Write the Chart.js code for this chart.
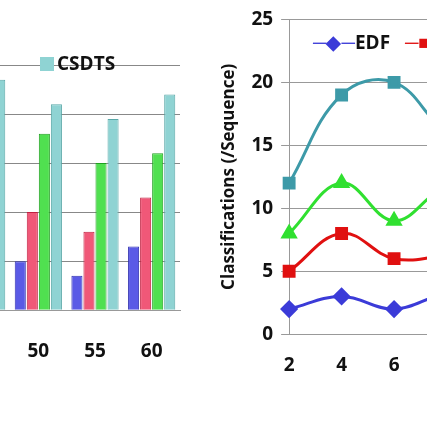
<!DOCTYPE html>
<html>
<head>
<meta charset="utf-8">
<script src="https://cdn.jsdelivr.net/npm/chart.js@4.4.0/dist/chart.umd.min.js"></script>
<style>
  body { margin: 0; background: #fff; width: 427px; height: 427px; overflow: hidden; position: relative; font-family: "Open Sans", sans-serif; }
  .box { position: absolute; top: 0; height: 427px; overflow: hidden; }
  .legend { position: absolute; white-space: nowrap; font-weight: bold; font-size: 19px; color: #111; }
  .legend span.sw { display: inline-block; width: 14px; height: 14px; vertical-align: -1px; margin-right: 3px; }
</style>
</head>
<body>
<div class="box" style="left:0;width:213px;">
  <canvas id="left" style="position:absolute;left:-180px;top:0;"></canvas>
  <div class="legend" style="left:40px;top:50px;"><span class="sw" style="background:#8fd3d3"></span>CSDTS</div>
</div>
<div class="box" style="left:213px;width:214px;">
  <canvas id="right" style="position:absolute;left:0;top:0;"></canvas>
  <div class="legend" style="left:100px;top:29px;">
    <span style="color:#3b3bd8">&#9472;&#9670;&#9472;</span>EDF &nbsp;
    <span style="color:#e01010">&#9472;&#9632;&#9472;</span>RM
  </div>
</div>
<script>
// left chart (3D bars in the original, cropped)
const barLabels = ["35", "40", "45", "50", "55", "60"];
const barBlue = [1.1, 0.9, 1.2, 1.0, 0.7, 1.3];
const barRed = [2.1, 1.8, 2.2, 2.0, 1.6, 2.3];
const barGreen = [3.4, 3.7, 3.9, 3.6, 3.0, 3.2];
const barCyan = [4.3, 4.5, 4.7, 4.2, 3.9, 4.4];

// right chart
const lineLabels = ["2", "4", "6", "8", "10"];
const lineEDF = [2, 3, 2, 3.2, 3];
const lineRM = [5, 8, 6, 6.3, 7];
const lineLLF = [8, 12, 9, 11.5, 10];
const lineCSDTS = [12, 19, 20, 16, 14];

const boldFont = { family: "Open Sans", weight: "bold", size: 19 };

const lc = document.getElementById("left");
lc.width = 380; lc.height = 427;
lc.style.width = "380px"; lc.style.height = "427px";
new Chart(lc, {
  type: "bar",
  data: {
    labels: barLabels,
    datasets: [
      { label: "EDF", data: barBlue, backgroundColor: "#5a5ae6", borderColor: "#3030b0", borderWidth: 1 },
      { label: "RM", data: barRed, backgroundColor: "#f05878", borderColor: "#c02040", borderWidth: 1 },
      { label: "LLF", data: barGreen, backgroundColor: "#50e050", borderColor: "#20a020", borderWidth: 1 },
      { label: "CSDTS", data: barCyan, backgroundColor: "#8fd3d3", borderColor: "#5aa8a8", borderWidth: 1 },
    ],
  },
  options: {
    responsive: false,
    animation: false,
    layout: { padding: { left: 12, right: 20, top: 65, bottom: 42 } },
    plugins: { legend: { display: false }, tooltip: { enabled: false } },
    datasets: { bar: { categoryPercentage: 0.85, barPercentage: 0.92 } },
    scales: {
      x: {
        grid: { display: false },
        border: { color: "#999" },
        ticks: { font: boldFont, color: "#111", padding: 22 },
      },
      y: {
        min: 0, max: 5,
        ticks: { display: false, stepSize: 1 },
        border: { display: false },
        grid: { color: "#888" },
      },
    },
  },
});

const rc = document.getElementById("right");
rc.width = 320; rc.height = 427;
rc.style.width = "320px"; rc.style.height = "427px";
function series(label, data, color, style) {
  return {
    label, data, borderColor: color, backgroundColor: color,
    borderWidth: 3, tension: 0.4, pointStyle: style, pointRadius: 7,
  };
}
new Chart(rc, {
  type: "line",
  data: {
    labels: lineLabels,
    datasets: [
      series("EDF", lineEDF, "#3b3bd8", "rectRot"),
      series("RM", lineRM, "#e01010", "rect"),
      series("LLF", lineLLF, "#30e030", "triangle"),
      series("CSDTS", lineCSDTS, "#3d9aa8", "rect"),
    ],
  },
  options: {
    responsive: false,
    animation: false,
    clip: false,
    layout: { padding: { left: 2, right: 34, top: 6, bottom: 38 } },
    plugins: { legend: { display: false }, tooltip: { enabled: false } },
    scales: {
      x: {
        offset: false,
        grid: { display: false },
        border: { color: "#999" },
        ticks: { font: boldFont, color: "#111", padding: 12 },
      },
      y: {
        min: 0, max: 25,
        ticks: { stepSize: 5, font: boldFont, color: "#111", padding: 8 },
        grid: { color: "#999" },
        border: { color: "#999" },
        title: { display: true, text: "Classifications (/Sequence)", font: { family: "Open Sans", weight: "bold", size: 17 }, color: "#111" },
      },
    },
  },
});
</script>
</body>
</html>
